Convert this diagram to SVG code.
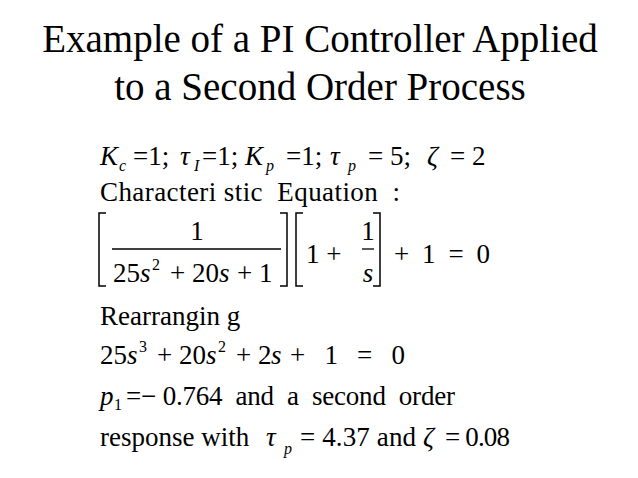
<svg xmlns="http://www.w3.org/2000/svg" width="638" height="478" viewBox="0 0 638 478">
<style>
text{font-family:"Liberation Serif","DejaVu Serif","Times New Roman",serif;fill:#000}
.t{font-size:39px;text-anchor:middle}
.e{font-size:27px}
.i{font-style:italic}
.s{font-size:16px}
.br{fill:none;stroke:#000;stroke-width:1.5}
</style>
<rect width="638" height="478" fill="#fff"/>
<g id="title">
<text class="t" x="320" y="52">Example of a PI Controller Applied</text>
<text class="t" x="320" y="100">to a Second Order Process</text>
</g>
<g id="params">
<text class="e i" x="100" y="165">K</text><text class="s i" x="119" y="171">c</text>
<text class="e" x="133" y="165">=1;</text>
<text class="e i" x="180" y="165">τ</text><text class="s i" x="194" y="171">I</text>
<text class="e" x="202" y="165">=1;</text>
<text class="e i" x="245" y="165">K</text><text class="s i" x="266" y="171">p</text>
<text class="e" x="286" y="165">=1;</text>
<text class="e i" x="330" y="165">τ</text><text class="s i" x="348" y="171">p</text>
<text class="e" x="368" y="165">= 5;</text>
<text class="e i" x="427" y="165">ζ</text>
<text class="e" x="450" y="165">= 2</text>
</g>
<g id="char">
<text class="e" x="100" y="201" textLength="300" lengthAdjust="spacing" xml:space="preserve">Characteri stic  Equation  :</text>
</g>
<g id="eq1">
<path class="br" d="M106,213 H99 V286 H106 M280,213 H287 V286 H280 M303,213 H296 V286 H303 M373,213 H380 V286 H373"/>
<line x1="112" y1="249" x2="281" y2="249" stroke="#000" stroke-width="1.3"/>
<text class="e" x="197" y="240" text-anchor="middle">1</text>
<text class="e" x="113" y="282">25</text><text class="e i" x="140" y="282">s</text><text class="s" x="152" y="270">2</text>
<text class="e" x="170" y="282">+ 20</text><text class="e i" x="219" y="282">s</text>
<text class="e" x="237" y="282">+ 1</text>
<text class="e" x="306" y="263">1 +</text>
<line x1="362" y1="249" x2="374" y2="249" stroke="#000" stroke-width="1.3"/>
<text class="e" x="368" y="240" text-anchor="middle">1</text>
<text class="e i" x="368" y="282" text-anchor="middle">s</text>
<text class="e" x="394" y="263" textLength="96" lengthAdjust="spacing" xml:space="preserve">+  1  =  0</text>
</g>
<g id="rearr">
<text class="e" x="100" y="325">Rearrangin g</text>
</g>
<g id="eq2">
<text class="e" x="100" y="364">25</text><text class="e i" x="127" y="364">s</text><text class="s" x="139" y="352">3</text>
<text class="e" x="157" y="364">+ 20</text><text class="e i" x="206" y="364">s</text><text class="s" x="218" y="352">2</text>
<text class="e" x="236" y="364">+ 2</text><text class="e i" x="271" y="364">s</text>
<text class="e" x="290" y="364" textLength="115" lengthAdjust="spacing">+ 1 = 0</text>
</g>
<g id="p1">
<text class="e i" x="100" y="405">p</text><text class="s" x="114" y="410">1</text>
<text class="e" x="126" y="405" textLength="329" lengthAdjust="spacing" xml:space="preserve">=− 0.764  and  a  second  order</text>
</g>
<g id="resp">
<text class="e" x="100" y="446">response  with</text>
<text class="e i" x="266" y="446">τ</text><text class="s i" x="284" y="454">p</text>
<text class="e" x="300" y="446" textLength="116" lengthAdjust="spacing">= 4.37 and</text>
<text class="e i" x="423" y="446">ζ</text>
<text class="e" x="445" y="446" textLength="65" lengthAdjust="spacing">= 0.08</text>
</g>
</svg>
